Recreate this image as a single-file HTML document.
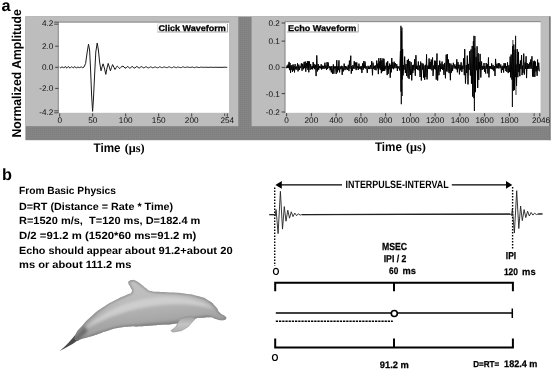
<!DOCTYPE html>
<html lang="en"><head><meta charset="utf-8"><title>Click and echo waveform figure</title>
<style>html,body{margin:0;padding:0;background:#fff;overflow:hidden}svg{display:block}text{white-space:pre}</style>
</head><body>
<svg width="553" height="370" viewBox="0 0 553 370" text-rendering="geometricPrecision">
<defs>
<pattern id="dk" width="2" height="2" patternUnits="userSpaceOnUse"><rect width="2" height="2" fill="#838383"/><rect width="1" height="1" fill="#7f7f7f"/><rect x="1" y="1" width="1" height="1" fill="#868686"/></pattern>
<linearGradient id="dg" x1="0" y1="0" x2="0.25" y2="1">
<stop offset="0" stop-color="#c4c4c4"/><stop offset="0.4" stop-color="#bcbcbc"/><stop offset="0.75" stop-color="#a6a6a6"/><stop offset="1" stop-color="#9a9a9a"/></linearGradient>
<linearGradient id="fg" x1="0" y1="0" x2="0" y2="1"><stop offset="0" stop-color="#a0a0a0"/><stop offset="0.5" stop-color="#c4c4c4"/><stop offset="1" stop-color="#b0b0b0"/></linearGradient>
<filter id="bl" x="-5%" y="-5%" width="110%" height="110%"><feGaussianBlur stdDeviation="0.5"/></filter>
<filter id="bl2" x="-20%" y="-20%" width="140%" height="140%"><feGaussianBlur stdDeviation="1.6"/></filter>
<filter id="bl3" x="-10%" y="-10%" width="120%" height="120%"><feGaussianBlur stdDeviation="0.9"/></filter>
<filter id="soft"><feGaussianBlur stdDeviation="0.35"/></filter>
</defs>
<rect x="25.4" y="16.4" width="525.1" height="123.8" fill="url(#dk)"/>
<rect x="25.4" y="16.4" width="212.9" height="109.8" fill="#bdbdbd"/>
<rect x="251.6" y="16.4" width="297.4" height="109.8" fill="#bdbdbd"/>
<rect x="549" y="16.4" width="1.5" height="123.8" fill="#7d7d7d"/>
<rect x="58.6" y="22.4" width="170.4" height="90.4" fill="#fff"/><path d="M58.3 113V22.1H229.2" fill="none" stroke="#777" stroke-width="0.8"/>
<rect x="285.3" y="22" width="255.3" height="90.8" fill="#fff"/><path d="M285 113V21.7H540.8" fill="none" stroke="#777" stroke-width="0.8"/>
<text x="1.4" y="10.8" font-family="'Liberation Sans', Arial, Helvetica, sans-serif" font-size="16.3" font-weight="bold" text-anchor="start" fill="#000">a</text>
<text x="2.0" y="180" font-family="'Liberation Sans', Arial, Helvetica, sans-serif" font-size="16.3" font-weight="bold" text-anchor="start" fill="#000">b</text>
<text transform="translate(20.7,137.6) rotate(-90)" font-family="'Liberation Sans', Arial, Helvetica, sans-serif" font-size="12.9" font-weight="bold" textLength="128.4" lengthAdjust="spacingAndGlyphs">Normalized Amplitude</text>
<text x="53.3" y="26.099999999999998" font-family="'Liberation Sans', Arial, Helvetica, sans-serif" font-size="8.2" font-weight="normal" text-anchor="end" fill="#111">4.2</text>
<path d="M54.2 22.2H58.4M54.2 24.2H58.4" stroke="#333" stroke-width="0.8"/>
<text x="53.3" y="49.1" font-family="'Liberation Sans', Arial, Helvetica, sans-serif" font-size="8.2" font-weight="normal" text-anchor="end" fill="#111">2.0</text>
<path d="M55.2 46.2H58.4" stroke="#333" stroke-width="0.9"/>
<text x="53.3" y="70.2" font-family="'Liberation Sans', Arial, Helvetica, sans-serif" font-size="8.2" font-weight="normal" text-anchor="end" fill="#111">0.0</text>
<path d="M55.2 67.3H58.4" stroke="#333" stroke-width="0.9"/>
<text x="53.3" y="91.30000000000001" font-family="'Liberation Sans', Arial, Helvetica, sans-serif" font-size="8.2" font-weight="normal" text-anchor="end" fill="#111">-2.0</text>
<path d="M55.2 88.4H58.4" stroke="#333" stroke-width="0.9"/>
<text x="53.3" y="114.7" font-family="'Liberation Sans', Arial, Helvetica, sans-serif" font-size="8.2" font-weight="normal" text-anchor="end" fill="#111">-4.2</text>
<path d="M54.2 110.8H58.4M54.2 112.8H58.4" stroke="#333" stroke-width="0.8"/>
<text x="59.7" y="123.2" font-family="'Liberation Sans', Arial, Helvetica, sans-serif" font-size="8.2" font-weight="normal" text-anchor="middle" fill="#111">0</text>
<path d="M59.7 113.4V116.6" stroke="#333" stroke-width="0.9"/>
<text x="92.7" y="123.2" font-family="'Liberation Sans', Arial, Helvetica, sans-serif" font-size="8.2" font-weight="normal" text-anchor="middle" fill="#111">50</text>
<path d="M92.7 113.4V116.6" stroke="#333" stroke-width="0.9"/>
<text x="125.7" y="123.2" font-family="'Liberation Sans', Arial, Helvetica, sans-serif" font-size="8.2" font-weight="normal" text-anchor="middle" fill="#111">100</text>
<path d="M125.7 113.4V116.6" stroke="#333" stroke-width="0.9"/>
<text x="158.7" y="123.2" font-family="'Liberation Sans', Arial, Helvetica, sans-serif" font-size="8.2" font-weight="normal" text-anchor="middle" fill="#111">150</text>
<path d="M158.7 113.4V116.6" stroke="#333" stroke-width="0.9"/>
<text x="191.7" y="123.2" font-family="'Liberation Sans', Arial, Helvetica, sans-serif" font-size="8.2" font-weight="normal" text-anchor="middle" fill="#111">200</text>
<path d="M191.7 113.4V116.6" stroke="#333" stroke-width="0.9"/>
<text x="227.3" y="123.2" font-family="'Liberation Sans', Arial, Helvetica, sans-serif" font-size="8.2" font-weight="normal" text-anchor="middle" fill="#111">254</text>
<path d="M227.3 113.4V116.6" stroke="#333" stroke-width="0.9"/>
<path d="M224.7 113.4V116" stroke="#333" stroke-width="0.8"/>
<path d="M59.7 67.2 60.7 68.0 61.7 66.8 62.7 67.1 63.7 68.1 64.7 66.9 65.6 66.5 66.6 68.1 67.6 67.3 68.6 66.5 69.6 68.0 70.6 67.6 71.6 66.8 72.6 67.4 73.6 67.9 74.6 66.5 75.5 67.2 76.5 68.2 77.5 67.0 78.5 67.0 79.5 68.1 80.5 67.0 81.5 66.8 82.5 67.9 84.0 67.0 85.6 63.5 87.2 52.0 88.5 44.2 89.6 50.0 90.6 70.0 91.6 95.0 92.6 111.4 93.4 100.0 94.6 75.0 95.8 52.0 97.2 43.0 98.4 50.0 99.6 62.0 101.0 70.8 102.2 66.5 103.1 63.8 104.4 68.0 105.8 74.4 107.0 68.0 108.2 63.4 109.3 67.0 110.4 70.8 111.5 67.5 112.6 64.6 113.8 67.0 115.0 69.5 116.2 67.6 117.3 66.0 118.5 67.2 119.6 68.6 120.8 67.4 122.0 66.4 123.0 66.2 124.0 66.9 125.0 68.2 126.0 67.9 127.0 66.8 127.9 66.6 128.9 67.5 129.9 68.3 130.9 67.5 131.9 66.7 132.9 66.7 133.9 67.9 134.9 68.1 135.9 67.0 136.9 66.4 137.8 67.0 138.8 68.1 139.8 67.7 140.8 66.9 141.8 66.6 142.8 67.4 143.8 67.9 144.8 67.4 145.8 66.8 146.8 66.9 147.7 67.8 148.7 67.9 149.7 67.3 150.7 66.8 151.7 67.3 152.7 67.8 153.7 67.5 154.7 67.1 155.7 67.0 156.6 67.5 157.6 67.8 158.6 67.5 159.6 66.8 160.6 67.1 161.6 67.6 162.6 67.6 163.6 67.0 164.6 67.0 165.6 67.4 166.6 67.6 167.5 67.6 168.5 67.0 169.5 66.9 170.5 67.4 171.5 67.8 172.5 67.5 173.5 66.8 174.5 67.1 175.5 67.4 176.4 67.7 177.4 67.1 178.4 67.1 179.4 67.4 180.4 67.6 181.4 67.6 182.4 67.0 183.4 66.9 184.4 67.4 185.4 67.5 186.3 67.2 187.3 67.0 188.3 67.2 189.3 67.4 190.3 67.4 191.3 67.3 192.3 67.0 193.3 67.4 194.3 67.7 195.3 67.4 196.2 67.1 197.2 67.1 198.2 67.4 199.2 67.6 200.2 67.3 201.2 67.1 202.2 67.3 203.2 67.3 204.2 67.3 205.2 67.3 206.1 67.2 207.1 67.3 208.1 67.4 209.1 67.3 210.1 67.3 211.1 67.2 212.1 67.3 213.1 67.4 214.1 67.3 215.1 67.3 216.1 67.3 217.0 67.3 218.0 67.3 219.0 67.3 220.0 67.3 221.0 67.3 222.0 67.4 223.0 67.3 224.0 67.2 225.0 67.2 225.9 67.3 226.9 67.4 227.3 67.3" fill="none" stroke="#1a1a1a" stroke-width="1" stroke-linejoin="round"/>
<rect x="157.4" y="23.8" width="70.4" height="8.6" fill="#8c8c8c"/>
<rect x="157.4" y="23.8" width="69.6" height="7.8" fill="#fff"/>
<text x="158.5" y="31" font-family="'Liberation Sans', Arial, Helvetica, sans-serif" font-size="8.3" font-weight="bold" text-anchor="start" fill="#000" textLength="67.2" lengthAdjust="spacingAndGlyphs" stroke="#000" stroke-width="0.3">Click Waveform</text>
<text x="279.8" y="25.9" font-family="'Liberation Sans', Arial, Helvetica, sans-serif" font-size="8.2" font-weight="normal" text-anchor="end" fill="#111">0.2</text>
<path d="M281.6 23H285" stroke="#333" stroke-width="0.9"/>
<text x="279.8" y="44.0" font-family="'Liberation Sans', Arial, Helvetica, sans-serif" font-size="8.2" font-weight="normal" text-anchor="end" fill="#111">0.1</text>
<path d="M281.6 41.1H285" stroke="#333" stroke-width="0.9"/>
<text x="279.8" y="70.30000000000001" font-family="'Liberation Sans', Arial, Helvetica, sans-serif" font-size="8.2" font-weight="normal" text-anchor="end" fill="#111">0.0</text>
<path d="M281.6 67.4H285" stroke="#333" stroke-width="0.9"/>
<text x="279.8" y="96.5" font-family="'Liberation Sans', Arial, Helvetica, sans-serif" font-size="8.2" font-weight="normal" text-anchor="end" fill="#111">-0.1</text>
<path d="M281.6 93.6H285" stroke="#333" stroke-width="0.9"/>
<text x="279.8" y="114.9" font-family="'Liberation Sans', Arial, Helvetica, sans-serif" font-size="8.2" font-weight="normal" text-anchor="end" fill="#111">-0.2</text>
<path d="M281.6 112H285" stroke="#333" stroke-width="0.9"/>
<text x="286.6" y="123.2" font-family="'Liberation Sans', Arial, Helvetica, sans-serif" font-size="8.2" font-weight="normal" text-anchor="middle" fill="#111">0</text>
<path d="M286.6 113.2V116.4" stroke="#333" stroke-width="0.9"/>
<text x="311.4" y="123.2" font-family="'Liberation Sans', Arial, Helvetica, sans-serif" font-size="8.2" font-weight="normal" text-anchor="middle" fill="#111">200</text>
<path d="M311.4 113.2V116.4" stroke="#333" stroke-width="0.9"/>
<text x="336.1" y="123.2" font-family="'Liberation Sans', Arial, Helvetica, sans-serif" font-size="8.2" font-weight="normal" text-anchor="middle" fill="#111">400</text>
<path d="M336.1 113.2V116.4" stroke="#333" stroke-width="0.9"/>
<text x="360.9" y="123.2" font-family="'Liberation Sans', Arial, Helvetica, sans-serif" font-size="8.2" font-weight="normal" text-anchor="middle" fill="#111">600</text>
<path d="M360.9 113.2V116.4" stroke="#333" stroke-width="0.9"/>
<text x="385.6" y="123.2" font-family="'Liberation Sans', Arial, Helvetica, sans-serif" font-size="8.2" font-weight="normal" text-anchor="middle" fill="#111">800</text>
<path d="M385.6 113.2V116.4" stroke="#333" stroke-width="0.9"/>
<text x="410.4" y="123.2" font-family="'Liberation Sans', Arial, Helvetica, sans-serif" font-size="8.2" font-weight="normal" text-anchor="middle" fill="#111">1000</text>
<path d="M410.4 113.2V116.4" stroke="#333" stroke-width="0.9"/>
<text x="435.1" y="123.2" font-family="'Liberation Sans', Arial, Helvetica, sans-serif" font-size="8.2" font-weight="normal" text-anchor="middle" fill="#111">1200</text>
<path d="M435.1 113.2V116.4" stroke="#333" stroke-width="0.9"/>
<text x="459.9" y="123.2" font-family="'Liberation Sans', Arial, Helvetica, sans-serif" font-size="8.2" font-weight="normal" text-anchor="middle" fill="#111">1400</text>
<path d="M459.9 113.2V116.4" stroke="#333" stroke-width="0.9"/>
<text x="484.6" y="123.2" font-family="'Liberation Sans', Arial, Helvetica, sans-serif" font-size="8.2" font-weight="normal" text-anchor="middle" fill="#111">1600</text>
<path d="M484.6 113.2V116.4" stroke="#333" stroke-width="0.9"/>
<text x="509.4" y="123.2" font-family="'Liberation Sans', Arial, Helvetica, sans-serif" font-size="8.2" font-weight="normal" text-anchor="middle" fill="#111">1800</text>
<path d="M509.4 113.2V116.4" stroke="#333" stroke-width="0.9"/>
<text x="541.0" y="123.2" font-family="'Liberation Sans', Arial, Helvetica, sans-serif" font-size="8.2" font-weight="normal" text-anchor="middle" fill="#111">2046</text>
<path d="M539.8 113.2V116.4" stroke="#333" stroke-width="0.9"/>
<path d="M534.1 113.2V116" stroke="#333" stroke-width="0.8"/>
<path d="M286.00 67.0 286.65 68.2 287.10 65.5 287.54 67.8 288.14 64.5 288.59 68.1 289.04 61.9 289.51 70.1 290.01 63.0 290.57 72.8 291.01 65.6 291.48 69.5 291.94 65.1 292.43 71.8 293.08 64.4 293.52 70.4 293.96 65.9 294.53 72.4 295.07 64.1 295.59 69.3 296.30 66.5 296.93 69.8 297.54 63.3 298.06 71.4 298.83 64.6 299.53 69.9 300.00 66.3 300.66 68.0 301.36 63.3 302.03 70.7 302.66 63.8 303.38 69.3 304.14 61.9 304.58 68.2 305.26 61.6 305.78 71.7 306.44 63.1 306.92 68.1 307.38 61.2 307.85 69.7 308.36 61.3 308.81 72.3 309.39 61.4 310.12 69.8 310.64 64.1 311.38 69.2 312.14 65.9 312.65 69.4 313.15 62.0 313.67 68.1 314.09 63.9 314.71 69.2 315.47 64.8 316.12 76.1 316.78 55.4 317.52 71.4 318.22 64.1 318.68 69.9 319.33 65.9 319.82 68.1 320.30 66.5 320.72 68.4 321.20 64.2 321.63 69.6 322.36 65.6 322.87 68.8 323.42 65.9 324.14 68.9 324.92 62.7 325.37 68.3 325.83 65.6 326.55 70.0 327.02 62.1 327.50 68.8 328.11 62.4 328.88 68.2 329.61 66.3 330.17 70.3 330.65 66.5 331.35 72.4 331.89 66.0 332.66 73.9 333.37 64.4 333.87 73.7 334.48 66.5 334.91 68.2 335.43 66.4 336.19 74.0 336.77 60.2 337.33 72.4 337.83 66.4 338.32 70.2 338.96 60.4 339.56 72.4 340.21 66.4 340.87 69.1 341.62 65.8 342.21 74.9 342.69 66.3 343.40 71.4 344.17 63.6 344.93 70.2 345.61 66.1 346.09 69.5 346.83 66.4 347.55 69.9 348.32 64.8 348.94 71.1 349.41 60.6 350.02 68.7 350.77 55.7 351.27 73.6 351.78 66.0 352.41 71.0 352.92 65.1 353.67 68.6 354.22 61.2 354.97 68.9 355.54 62.5 356.15 70.1 356.76 62.4 357.24 68.2 357.66 66.4 358.25 70.0 358.94 63.6 359.54 68.7 360.16 66.4 360.78 69.3 361.29 66.1 361.90 72.9 362.59 63.4 363.23 69.7 363.83 61.0 364.41 68.1 365.03 61.6 365.76 68.7 366.52 66.5 367.28 72.9 368.00 65.8 368.58 69.0 369.03 66.4 369.69 69.1 370.39 65.2 371.07 69.0 371.73 61.1 372.50 75.3 373.00 62.6 373.59 68.8 374.37 65.8 374.94 70.0 375.55 65.5 376.08 70.3 376.76 60.6 377.34 68.4 377.77 63.6 378.37 74.1 378.82 58.2 379.27 68.4 379.79 61.3 380.25 69.8 380.83 58.1 381.34 73.2 381.81 60.4 382.49 71.3 382.94 58.4 383.51 70.8 383.96 58.8 384.67 70.9 385.12 65.8 385.85 69.3 386.43 62.6 387.18 75.1 387.70 61.2 388.21 73.8 388.67 65.9 389.16 69.2 389.69 63.5 390.21 77.7 390.81 64.8 391.24 72.4 391.75 58.0 392.37 68.4 392.86 62.4 393.57 69.2 394.15 61.7 394.75 68.2 395.42 63.2 396.14 68.2 396.81 64.2 397.36 71.0 397.80 66.1 398.48 68.3 399.00 66.5 399.72 70.5 400.45 51.2 401.04 91.7 401.55 31.1 402.08 79.5 402.64 49.1 403.06 75.5 403.63 65.1 404.16 69.6 404.66 56.6 405.35 73.0 406.01 64.0 406.57 75.9 407.34 60.0 407.99 77.6 408.43 58.9 409.07 78.9 409.79 61.1 410.39 75.0 411.11 62.2 411.74 80.4 412.41 65.2 412.84 73.0 413.30 64.8 414.03 70.4 414.65 59.2 415.31 75.8 415.91 55.2 416.51 69.0 417.12 65.6 417.81 69.9 418.32 61.5 419.00 70.3 419.49 65.6 420.09 77.0 420.68 61.6 421.33 80.5 421.98 63.2 422.49 69.5 423.18 63.7 423.60 77.6 424.04 65.6 424.71 79.8 425.38 64.8 425.96 77.1 426.55 54.4 427.04 79.4 427.81 65.6 428.40 69.0 429.11 58.4 429.63 69.1 430.13 61.9 430.76 69.2 431.23 59.5 431.94 70.4 432.55 57.5 433.05 75.9 433.79 65.5 434.21 69.0 434.81 60.6 435.28 69.5 435.83 60.9 436.25 79.6 436.97 53.5 437.64 80.5 438.39 65.3 438.95 75.2 439.73 60.7 440.30 71.5 440.82 63.6 441.54 69.0 442.07 61.5 442.58 69.8 443.19 64.3 443.95 74.9 444.69 62.9 445.44 78.3 446.20 54.7 446.63 71.4 447.32 54.1 447.97 71.6 448.49 59.5 449.08 73.1 449.63 63.3 450.40 80.2 450.91 63.6 451.53 72.6 452.09 65.2 452.59 70.9 453.34 62.8 454.08 68.5 454.86 64.4 455.35 68.4 455.80 66.0 456.31 69.4 456.82 59.3 457.39 72.3 457.96 62.0 458.50 68.4 458.94 64.8 459.41 74.4 460.05 64.8 460.57 70.3 461.08 62.3 461.85 71.9 462.57 65.7 463.00 69.1 463.68 58.2 464.31 75.2 464.73 49.1 465.46 83.5 466.23 65.0 466.70 73.0 467.31 55.6 467.99 84.4 468.58 63.9 469.08 69.9 469.73 51.1 470.40 75.5 471.01 49.5 471.44 83.7 472.20 46.0 472.71 96.6 473.38 41.2 473.95 98.2 474.71 47.7 475.37 92.2 476.06 56.8 476.59 70.2 477.09 46.3 477.69 87.9 478.26 53.3 478.74 79.9 479.23 61.9 479.67 69.2 480.11 53.9 480.80 77.5 481.58 61.5 482.06 70.0 482.82 65.9 483.48 69.1 484.04 63.0 484.52 71.7 484.94 66.0 485.70 73.5 486.17 63.0 486.71 68.6 487.43 64.3 487.87 73.5 488.46 57.5 488.95 77.4 489.50 66.1 490.07 68.5 490.78 66.1 491.21 69.0 491.65 63.4 492.34 69.5 493.09 64.9 493.85 71.1 494.49 66.2 495.03 76.0 495.55 58.9 496.19 68.3 496.95 63.8 497.55 68.2 498.31 63.1 498.82 68.5 499.39 63.3 500.10 68.1 500.79 64.5 501.43 72.8 501.97 66.0 502.67 70.0 503.12 65.6 503.63 72.5 504.07 63.1 504.61 68.3 505.38 63.2 505.83 71.0 506.43 66.1 506.93 72.0 507.50 62.3 508.19 73.1 508.92 65.2 509.64 72.1 510.17 56.6 510.66 77.4 511.13 54.5 511.91 79.6 512.62 46.3 513.34 90.7 513.81 44.5 514.36 90.1 515.06 49.7 515.56 77.0 516.05 64.5 516.55 85.8 517.21 49.1 517.83 77.2 518.39 51.9 518.84 72.1 519.32 63.9 519.84 76.2 520.37 60.5 521.00 69.1 521.55 55.0 522.10 75.1 522.59 65.7 523.01 72.8 523.75 53.6 524.32 74.6 525.06 62.6 525.48 68.9 526.10 56.3 526.55 78.1 527.11 63.0 527.63 68.9 528.24 64.1 528.83 68.9 529.54 62.6 530.01 68.7 530.77 59.4 531.21 68.7 531.96 56.3 532.61 76.6 533.32 61.3 533.82 76.8 534.39 60.7 534.87 76.8 535.37 61.6 535.93 71.4 536.39 66.2 537.14 75.8 537.57 59.5 538.01 70.5 538.73 62.7 539.35 71.4" fill="none" stroke="#000" stroke-width="1" stroke-linejoin="miter"/>
<path d="M400.6 67 L400.9 25.8 L401.3 104.2 L401.9 27.5 L402.4 96 M473.6 67 L473.9 35.8 L474.4 111 L474.9 36 L475.2 90 M512.1 67 L512.4 107 L512.9 40 M515.3 67 L515.6 35.8 L516 95" fill="none" stroke="#000" stroke-width="0.8"/>
<rect x="287" y="23.8" width="71.6" height="8.6" fill="#8c8c8c"/>
<rect x="287" y="23.8" width="70.8" height="7.8" fill="#fff"/>
<text x="288.1" y="31" font-family="'Liberation Sans', Arial, Helvetica, sans-serif" font-size="8.3" font-weight="bold" text-anchor="start" fill="#000" textLength="68.2" lengthAdjust="spacingAndGlyphs" stroke="#000" stroke-width="0.3">Echo Waveform</text>
<text x="93.5" y="152.4" font-family="'Liberation Sans', Arial, Helvetica, sans-serif" font-size="12.4" font-weight="bold" text-anchor="start" fill="#000" textLength="27" lengthAdjust="spacingAndGlyphs">Time</text>
<text x="124.7" y="152.4" font-family="'Liberation Serif', 'Times New Roman', serif" font-size="12.4" font-weight="bold" text-anchor="start" fill="#000" textLength="19.9" lengthAdjust="spacingAndGlyphs">(μs)</text>
<text x="374.9" y="151.2" font-family="'Liberation Sans', Arial, Helvetica, sans-serif" font-size="12.4" font-weight="bold" text-anchor="start" fill="#000" textLength="27" lengthAdjust="spacingAndGlyphs">Time</text>
<text x="406.0" y="151.2" font-family="'Liberation Serif', 'Times New Roman', serif" font-size="12.4" font-weight="bold" text-anchor="start" fill="#000" textLength="19.9" lengthAdjust="spacingAndGlyphs">(μs)</text>
<text x="19.0" y="194.3" font-family="'Liberation Sans', Arial, Helvetica, sans-serif" font-size="10.4" font-weight="bold" text-anchor="start" fill="#000" textLength="96.9" lengthAdjust="spacingAndGlyphs" xml:space="preserve">From Basic Physics</text>
<text x="19.0" y="209.6" font-family="'Liberation Sans', Arial, Helvetica, sans-serif" font-size="10.4" font-weight="bold" text-anchor="start" fill="#000" textLength="154.1" lengthAdjust="spacingAndGlyphs" xml:space="preserve">D=RT (Distance = Rate * Time)</text>
<text x="19.0" y="224.2" font-family="'Liberation Sans', Arial, Helvetica, sans-serif" font-size="10.4" font-weight="bold" text-anchor="start" fill="#000" textLength="181.4" lengthAdjust="spacingAndGlyphs" xml:space="preserve">R=1520 m/s,  T=120 ms, D=182.4 m</text>
<text x="19.0" y="238.9" font-family="'Liberation Sans', Arial, Helvetica, sans-serif" font-size="10.4" font-weight="bold" text-anchor="start" fill="#000" textLength="177.4" lengthAdjust="spacingAndGlyphs" xml:space="preserve">D/2 =91.2 m (1520*60 ms=91.2 m)</text>
<text x="19.0" y="253.6" font-family="'Liberation Sans', Arial, Helvetica, sans-serif" font-size="10.4" font-weight="bold" text-anchor="start" fill="#000" textLength="103.2" lengthAdjust="spacingAndGlyphs" xml:space="preserve">Echo should appear</text>
<text x="19.0" y="268" font-family="'Liberation Sans', Arial, Helvetica, sans-serif" font-size="10.4" font-weight="bold" text-anchor="start" fill="#000" textLength="112.4" lengthAdjust="spacingAndGlyphs" xml:space="preserve">ms or about 111.2 ms</text>
<text x="125.0" y="253.6" font-family="'Liberation Sans', Arial, Helvetica, sans-serif" font-size="10.4" font-weight="bold" text-anchor="start" fill="#000" textLength="107.6" lengthAdjust="spacingAndGlyphs">about 91.2+about 20</text>
<clipPath id="dc"><path d="M75.5 335.0 C77.5 329.7 77.7 331.1 83.1 324.8 C88.5 318.5 85.3 321.9 91.8 316.1 C98.3 310.3 94.7 312.9 102.6 307.5 C110.5 302.1 107.7 304.1 115.6 299.9 C123.5 295.7 121.1 297.5 126.4 294.9 C131.7 292.3 130.2 294.5 131.6 292.0 C133.0 289.5 131.7 290.4 130.6 287.5 C129.5 284.6 128.8 285.4 128.4 283.2 C128.0 281.0 128.1 282.0 129.4 281.0 C130.7 280.0 130.4 280.2 132.4 280.1 C134.4 280.0 132.3 279.1 135.4 280.6 C138.5 282.1 138.1 282.2 141.6 284.7 C145.1 287.2 142.9 286.1 146.0 288.2 C149.1 290.3 146.8 289.8 150.8 291.0 C154.8 292.2 152.8 291.4 158.0 291.8 C163.2 292.2 157.7 291.7 166.3 292.2 C174.9 292.7 173.4 292.1 183.9 293.4 C194.4 294.7 189.7 293.7 197.9 296.1 C206.1 298.5 202.6 297.0 208.5 300.5 C214.4 304.0 211.7 302.5 215.5 306.6 C219.3 310.7 216.7 309.6 219.9 312.8 C223.1 316.0 222.9 314.3 225.0 316.2 C227.1 318.1 226.9 317.1 226.1 318.4 C225.3 319.7 226.0 320.0 222.5 320.2 C219.0 320.4 219.6 320.0 215.5 319.0 C211.4 318.0 214.9 317.7 210.2 317.3 C205.5 316.9 206.8 317.3 201.5 317.8 C196.2 318.3 202.3 317.1 194.4 318.9 C186.5 320.7 190.1 321.3 177.8 323.3 C165.5 325.3 170.2 324.0 157.6 325.0 C145.0 326.0 148.9 325.8 140.0 326.3 C131.1 326.8 137.5 326.0 130.8 326.4 C124.1 326.8 127.1 326.3 119.9 327.6 C112.7 328.9 116.3 328.1 109.1 330.2 C101.9 332.3 104.8 331.7 98.3 333.9 C91.8 336.1 95.4 334.9 89.6 336.7 C83.8 338.5 85.1 337.9 81.0 339.2 C76.9 340.5 79.0 342.0 77.2 340.6 C75.4 339.2 73.5 340.3 75.5 335.0Z"/></clipPath>
<g filter="url(#soft)">
<path d="M59.6 351 C62.5 348.5 65.5 345.8 68 343.2 C71 340 74 336.5 76.6 333.2 L80.5 336.2 C79.5 338 78.5 339.6 77.2 340.8 C74 343 71 345 68 346.6 C65 348.4 62 350 59.6 351Z" fill="#4a4a4a"/>
<path d="M75.5 335.0 C77.5 329.7 77.7 331.1 83.1 324.8 C88.5 318.5 85.3 321.9 91.8 316.1 C98.3 310.3 94.7 312.9 102.6 307.5 C110.5 302.1 107.7 304.1 115.6 299.9 C123.5 295.7 121.1 297.5 126.4 294.9 C131.7 292.3 130.2 294.5 131.6 292.0 C133.0 289.5 131.7 290.4 130.6 287.5 C129.5 284.6 128.8 285.4 128.4 283.2 C128.0 281.0 128.1 282.0 129.4 281.0 C130.7 280.0 130.4 280.2 132.4 280.1 C134.4 280.0 132.3 279.1 135.4 280.6 C138.5 282.1 138.1 282.2 141.6 284.7 C145.1 287.2 142.9 286.1 146.0 288.2 C149.1 290.3 146.8 289.8 150.8 291.0 C154.8 292.2 152.8 291.4 158.0 291.8 C163.2 292.2 157.7 291.7 166.3 292.2 C174.9 292.7 173.4 292.1 183.9 293.4 C194.4 294.7 189.7 293.7 197.9 296.1 C206.1 298.5 202.6 297.0 208.5 300.5 C214.4 304.0 211.7 302.5 215.5 306.6 C219.3 310.7 216.7 309.6 219.9 312.8 C223.1 316.0 222.9 314.3 225.0 316.2 C227.1 318.1 226.9 317.1 226.1 318.4 C225.3 319.7 226.0 320.0 222.5 320.2 C219.0 320.4 219.6 320.0 215.5 319.0 C211.4 318.0 214.9 317.7 210.2 317.3 C205.5 316.9 206.8 317.3 201.5 317.8 C196.2 318.3 202.3 317.1 194.4 318.9 C186.5 320.7 190.1 321.3 177.8 323.3 C165.5 325.3 170.2 324.0 157.6 325.0 C145.0 326.0 148.9 325.8 140.0 326.3 C131.1 326.8 137.5 326.0 130.8 326.4 C124.1 326.8 127.1 326.3 119.9 327.6 C112.7 328.9 116.3 328.1 109.1 330.2 C101.9 332.3 104.8 331.7 98.3 333.9 C91.8 336.1 95.4 334.9 89.6 336.7 C83.8 338.5 85.1 337.9 81.0 339.2 C76.9 340.5 79.0 342.0 77.2 340.6 C75.4 339.2 73.5 340.3 75.5 335.0Z" fill="url(#dg)"/>
<g clip-path="url(#dc)">
<path d="M84 330 C100 312 125 300 160 297 C185 296 203 300 214 309 C200 305 180 303 160 305 C130 308 105 318 84 330Z" fill="#d6d6d6" opacity="0.75" filter="url(#bl2)"/>
<path d="M86 338 C105 330 130 324.5 160 322.5 C178 321.5 192 318 210 316 L210 321 C190 322 175 327 160 328 C130 330 105 336 86 342Z" fill="#808080" opacity="0.75" filter="url(#bl2)"/>
<path d="M75.5 335.0 C77.5 329.7 77.7 331.1 83.1 324.8 C88.5 318.5 85.3 321.9 91.8 316.1 C98.3 310.3 94.7 312.9 102.6 307.5 C110.5 302.1 107.7 304.1 115.6 299.9 C123.5 295.7 121.1 297.5 126.4 294.9 C131.7 292.3 130.2 294.5 131.6 292.0 C133.0 289.5 131.7 290.4 130.6 287.5 C129.5 284.6 128.8 285.4 128.4 283.2 C128.0 281.0 128.1 282.0 129.4 281.0 C130.7 280.0 130.4 280.2 132.4 280.1 C134.4 280.0 132.3 279.1 135.4 280.6 C138.5 282.1 138.1 282.2 141.6 284.7 C145.1 287.2 142.9 286.1 146.0 288.2 C149.1 290.3 146.8 289.8 150.8 291.0 C154.8 292.2 152.8 291.4 158.0 291.8 C163.2 292.2 157.7 291.7 166.3 292.2 C174.9 292.7 173.4 292.1 183.9 293.4 C194.4 294.7 189.7 293.7 197.9 296.1 C206.1 298.5 202.6 297.0 208.5 300.5 C214.4 304.0 211.7 302.5 215.5 306.6 C219.3 310.7 216.7 309.6 219.9 312.8 C223.1 316.0 222.9 314.3 225.0 316.2 C227.1 318.1 226.9 317.1 226.1 318.4 C225.3 319.7 226.0 320.0 222.5 320.2 C219.0 320.4 219.6 320.0 215.5 319.0 C211.4 318.0 214.9 317.7 210.2 317.3 C205.5 316.9 206.8 317.3 201.5 317.8 C196.2 318.3 202.3 317.1 194.4 318.9 C186.5 320.7 190.1 321.3 177.8 323.3 C165.5 325.3 170.2 324.0 157.6 325.0 C145.0 326.0 148.9 325.8 140.0 326.3 C131.1 326.8 137.5 326.0 130.8 326.4 C124.1 326.8 127.1 326.3 119.9 327.6 C112.7 328.9 116.3 328.1 109.1 330.2 C101.9 332.3 104.8 331.7 98.3 333.9 C91.8 336.1 95.4 334.9 89.6 336.7 C83.8 338.5 85.1 337.9 81.0 339.2 C76.9 340.5 79.0 342.0 77.2 340.6 C75.4 339.2 73.5 340.3 75.5 335.0Z" fill="none" stroke="#7c7c7c" stroke-width="2.2" opacity="0.8" filter="url(#bl3)"/>
<path d="M72 341 L84 326 L88 331 L78 341Z" fill="#555" opacity="0.7" filter="url(#bl2)"/>
</g>
<path d="M193.8 317.4 C196.8 319.1 193.9 319.6 191.0 323.3 C188.1 327.0 189.4 325.9 185.0 328.6 C180.6 331.3 182.3 330.5 177.8 331.3 C173.3 332.1 172.1 332.4 171.4 330.9 C170.7 329.4 173.4 329.9 175.8 326.8 C178.2 323.7 176.5 324.5 178.6 321.6 C180.7 318.7 176.9 319.6 182.0 318.2 C187.1 316.8 190.8 315.7 193.8 317.4Z" fill="url(#fg)"/>
<path d="M193.8 317.4 C196.8 319.1 193.9 319.6 191.0 323.3 C188.1 327.0 189.4 325.9 185.0 328.6 C180.6 331.3 182.3 330.5 177.8 331.3 C173.3 332.1 172.1 332.4 171.4 330.9 C170.7 329.4 173.4 329.9 175.8 326.8 C178.2 323.7 176.5 324.5 178.6 321.6 C180.7 318.7 176.9 319.6 182.0 318.2 C187.1 316.8 190.8 315.7 193.8 317.4Z" fill="none" stroke="#8e8e8e" stroke-width="0.8" opacity="0.8"/>
</g>
<path d="M281 184.9H342M451.8 184.9H507" stroke="#000" stroke-width="1.4"/>
<path d="M275.4 184.9L281.8 181.1V188.7Z M512.3 184.9L506.0 181.0V188.8Z" fill="#000"/>
<text x="345.6" y="188.0" font-family="'Liberation Sans', Arial, Helvetica, sans-serif" font-size="10.7" font-weight="bold" text-anchor="start" fill="#000" textLength="103" lengthAdjust="spacingAndGlyphs">INTERPULSE-INTERVAL</text>
<path d="M274.7 187.5V266" stroke="#000" stroke-width="1.4" stroke-dasharray="1.4 1.6"/>
<path d="M512.6 187V249" stroke="#000" stroke-width="1.4" stroke-dasharray="1.4 1.6"/>
<path d="M269.4 214.6 274.0 214.6 275.2 216.1 276.1 209.6 278.1 233.6 280.4 191.3 282.5 229.1 284.3 206.6 286.0 221.2 287.8 210.2 289.5 218.2 291.3 211.8 293.0 216.6 294.8 213.1 296.6 215.7 298.3 213.8 300.1 215.1 301.8 214.6 510.3 214.0 511.5 215.5 512.4 209.0 514.4 233.0 516.7 190.7 518.8 228.5 520.6 206.0 522.3 220.6 524.1 209.6 525.8 217.6 527.6 211.2 529.3 216.0 531.1 212.5 532.9 215.1 534.6 213.2 536.4 214.5 538.1 214.0 542.5 213.9" fill="none" stroke="#222" stroke-width="0.9" stroke-linejoin="round"/>
<path d="M269.4 214.6H274.5M302 214.55L510.3 214.05M538 213.95H542.5" fill="none" stroke="#222" stroke-width="1.15"/>
<text x="382.0" y="249.5" font-family="'Liberation Sans', Arial, Helvetica, sans-serif" font-size="10.2" font-weight="bold" text-anchor="start" fill="#000" textLength="25.1" lengthAdjust="spacingAndGlyphs" stroke="#000" stroke-width="0.25">MSEC</text>
<text x="383.7" y="261.8" font-family="'Liberation Sans', Arial, Helvetica, sans-serif" font-size="10.0" font-weight="bold" text-anchor="start" fill="#000" textLength="22.7" lengthAdjust="spacingAndGlyphs" stroke="#000" stroke-width="0.25">IPI / 2</text>
<text x="389.1" y="274.4" font-family="'Liberation Sans', Arial, Helvetica, sans-serif" font-size="9.5" font-weight="bold" text-anchor="start" fill="#000" textLength="9.2" lengthAdjust="spacingAndGlyphs" stroke="#000" stroke-width="0.25">60</text>
<text x="402.6" y="274.4" font-family="'Liberation Sans', Arial, Helvetica, sans-serif" font-size="9.6" font-weight="bold" text-anchor="start" fill="#000" textLength="13.3" lengthAdjust="spacingAndGlyphs" stroke="#000" stroke-width="0.25">ms</text>
<text x="505.8" y="259.0" font-family="'Liberation Sans', Arial, Helvetica, sans-serif" font-size="10.1" font-weight="bold" text-anchor="start" fill="#000" textLength="10.3" lengthAdjust="spacingAndGlyphs" stroke="#000" stroke-width="0.25">IPI</text>
<text x="503.9" y="274.6" font-family="'Liberation Sans', Arial, Helvetica, sans-serif" font-size="9.6" font-weight="bold" text-anchor="start" fill="#000" textLength="14" lengthAdjust="spacingAndGlyphs" stroke="#000" stroke-width="0.25">120</text>
<text x="522.1" y="274.6" font-family="'Liberation Sans', Arial, Helvetica, sans-serif" font-size="9.7" font-weight="bold" text-anchor="start" fill="#000" textLength="13.5" lengthAdjust="spacingAndGlyphs" stroke="#000" stroke-width="0.25">ms</text>
<text x="272.5" y="275.4" font-family="'Liberation Sans', Arial, Helvetica, sans-serif" font-size="10.4" font-weight="bold" text-anchor="start" fill="#000" textLength="6.9" lengthAdjust="spacingAndGlyphs">O</text>
<path d="M275.2 291.2V282.8H512.9V291.2 M394.0 282.8V291.2" fill="none" stroke="#000" stroke-width="2"/>
<path d="M275.8 313H512.3 M512.3 308.6V318" fill="none" stroke="#000" stroke-width="1.5"/>
<circle cx="394.3" cy="313.5" r="3" fill="#fff" stroke="#000" stroke-width="1.6"/>
<path d="M275.8 321.3H392.8" stroke="#000" stroke-width="1.5" stroke-dasharray="2.3 0.9"/>
<path d="M275.2 338.6V347.4H512.9V338.6 M394.0 347.4V338.6" fill="none" stroke="#000" stroke-width="2"/>
<text x="271.5" y="360.6" font-family="'Liberation Sans', Arial, Helvetica, sans-serif" font-size="10.2" font-weight="bold" text-anchor="start" fill="#000" textLength="6.9" lengthAdjust="spacingAndGlyphs">O</text>
<text x="379.8" y="367.5" font-family="'Liberation Sans', Arial, Helvetica, sans-serif" font-size="9.4" font-weight="bold" text-anchor="start" fill="#000" textLength="29" lengthAdjust="spacingAndGlyphs" stroke="#000" stroke-width="0.25">91.2 m</text>
<text x="473.2" y="366.7" font-family="'Liberation Sans', Arial, Helvetica, sans-serif" font-size="8.6" font-weight="bold" text-anchor="start" fill="#000" textLength="26" lengthAdjust="spacingAndGlyphs" stroke="#000" stroke-width="0.25">D=RT=</text>
<text x="504.1" y="367.0" font-family="'Liberation Sans', Arial, Helvetica, sans-serif" font-size="9.5" font-weight="bold" text-anchor="start" fill="#000" textLength="33.3" lengthAdjust="spacingAndGlyphs" stroke="#000" stroke-width="0.25">182.4 m</text>
</svg>
</body></html>
